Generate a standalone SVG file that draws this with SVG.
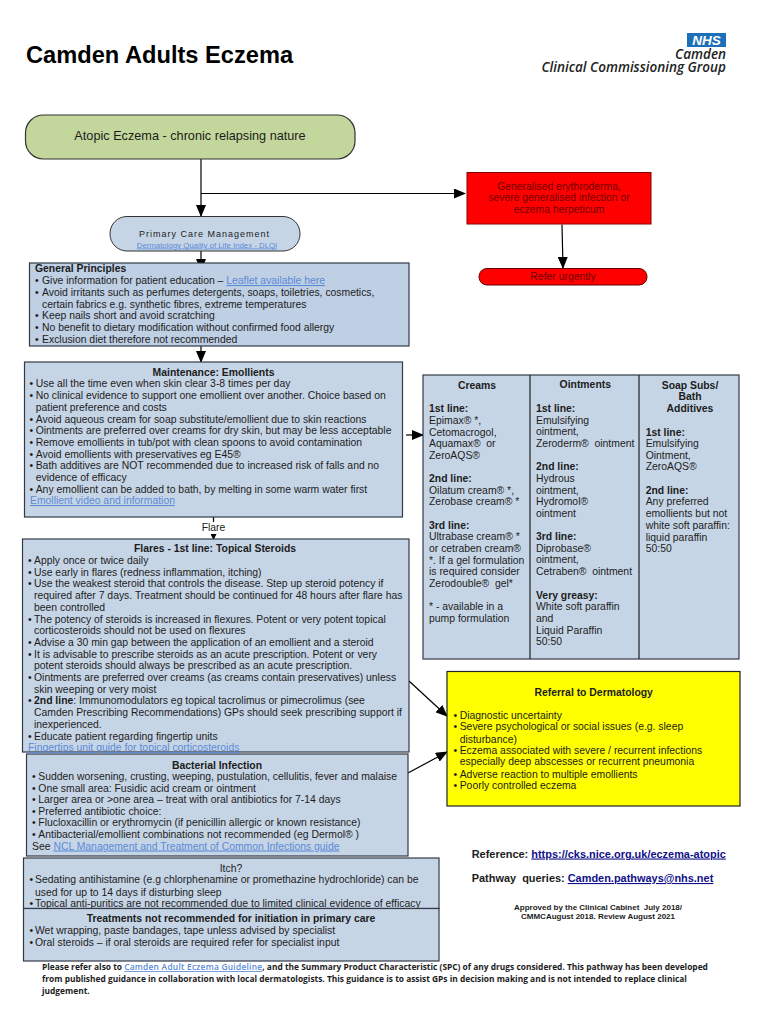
<svg xmlns="http://www.w3.org/2000/svg" width="768" height="1024" viewBox="0 0 768 1024">
<style>
text{font-family:"Liberation Sans",Arial,sans-serif;font-size:10.4px;fill:#1c1c1c;white-space:pre}
.b{font-weight:bold}
.c{text-anchor:middle}
.l{fill:#5b8ad6;text-decoration:underline}
.box{fill:#c6d5e6;stroke:#333a46;stroke-width:1.2}
.con{fill:none;stroke:#000;stroke-width:1.2}
.red{fill:#700000}
.nl{fill:#10108a;text-decoration:underline;font-weight:bold;font-size:10.95px}
.q{font-weight:bold;font-size:10.95px}
.f{font-family:"Open Sans","Liberation Sans",sans-serif;font-weight:700;font-size:8.4px}
.lg{font-family:"Open Sans","Liberation Sans",sans-serif;font-style:italic;font-weight:600;font-size:13.5px;text-anchor:end;fill:#222}
</style>
<defs>
<marker id="a" markerUnits="userSpaceOnUse" markerWidth="12" markerHeight="10" refX="11" refY="5" orient="auto"><path d="M0 0L12 5L0 10z" fill="#000"/></marker>
<marker id="s" markerUnits="userSpaceOnUse" markerWidth="6" markerHeight="6" refX="5" refY="3" orient="auto"><path d="M0 0L6 3L0 6z" fill="#000"/></marker>
</defs>
<rect width="768" height="1024" fill="#fff"/>
<g id="header">
<text x="26" y="63" class="b" style="font-size:23.65px;fill:#000">Camden Adults Eczema</text>
<rect x="687" y="33" width="39" height="14" fill="#1d70b8"/>
<text x="706.500" y="45" class="b c" style="font-size:13.5px;font-style:italic;fill:#fff">NHS</text>
<text x="726" y="59" class="lg">Camden</text>
<text x="726" y="71.500" class="lg">Clinical Commissioning Group</text>
</g>
<g id="connectors">
<path class="con" d="M201 159V216" marker-end="url(#a)"/>
<path class="con" d="M201 193.500H465" marker-end="url(#a)"/>
<path class="con" d="M562 224.500L563 268" marker-end="url(#a)"/>
<path class="con" d="M201 251V270" marker-end="url(#a)"/>
<path class="con" d="M201 346V362" marker-end="url(#a)"/>
<path class="con" d="M406 435H423" marker-end="url(#a)"/>
<path class="con" d="M213.500 517V522M213.500 534V539" marker-end="url(#s)"/>
<path class="con" d="M409 681L447 716" marker-end="url(#a)"/>
<path class="con" d="M408 773L447 752" marker-end="url(#a)"/>
</g>
<g id="atopic">
<rect x="25.500" y="115" width="329.500" height="44" rx="18" fill="#c3d69b" stroke="#333" stroke-width="1.2"/>
<text x="190" y="140" class="c" style="font-size:12.7px">Atopic Eczema - chronic relapsing nature</text>
</g>
<g id="primary">
<rect x="110" y="216.500" width="190" height="34.500" rx="17" fill="#c6d5e6" stroke="#333" stroke-width="1"/>
<text x="204.500" y="237" class="c" style="font-size:9px;letter-spacing:1px">Primary Care Management</text>
<text x="207" y="247.500" class="c l" style="font-size:7.800px">Dermatology Quality of Life Index - DLQI</text>
</g>
<g id="generalised">
<rect x="467" y="172.500" width="184" height="51.500" fill="#f00" stroke="#800" stroke-width="1"/>
<text x="559" y="190" class="c red">Generalised erythroderma,</text>
<text x="559" y="201" class="c red">severe generalised infection or</text>
<text x="559" y="212.500" class="c red">eczema herpeticum</text>
</g>
<g id="refer">
<rect x="479" y="268.500" width="168" height="16.500" rx="8" fill="#f00" stroke="#600" stroke-width="1"/>
<text x="563" y="280" class="c red">Refer urgently</text>
</g>
<g id="general">
<rect class="box" x="29.500" y="263" width="379.500" height="83" style="fill:#bfcfe4"/>
<text x="35" y="271.500" class="b">General Principles</text>
<text y="284"><tspan x="35">•</tspan><tspan x="42">Give information for patient education – </tspan><tspan class="l">Leaflet available here</tspan></text>
<text y="295.500"><tspan x="35">•</tspan><tspan x="42">Avoid irritants such as perfumes detergents, soaps, toiletries, cosmetics,</tspan></text>
<text x="42" y="307.500">certain fabrics e.g. synthetic fibres, extreme temperatures</text>
<text y="319"><tspan x="35">•</tspan><tspan x="42">Keep nails short and avoid scratching</tspan></text>
<text y="330.500"><tspan x="35">•</tspan><tspan x="42">No benefit to dietary modification without confirmed food allergy</tspan></text>
<text y="342.500"><tspan x="35">•</tspan><tspan x="42">Exclusion diet therefore not recommended</tspan></text>
</g>
<g id="maintenance">
<rect class="box" x="24.500" y="362" width="378" height="155"/>
<text x="213.500" y="375.500" class="b c">Maintenance: Emollients</text>
<text y="387"><tspan x="29.500">•</tspan><tspan x="35.700">Use all the time even when skin clear 3-8 times per day</tspan></text>
<text y="399"><tspan x="29.500">•</tspan><tspan x="35.700">No clinical evidence to support one emollient over another. Choice based on</tspan></text>
<text x="35.700" y="411">patient preference and costs</text>
<text y="422.500"><tspan x="29.500">•</tspan><tspan x="35.700">Avoid aqueous cream for soap substitute/emollient due to skin reactions</tspan></text>
<text y="434"><tspan x="29.500">•</tspan><tspan x="35.700">Ointments are preferred over creams for dry skin, but may be less acceptable</tspan></text>
<text y="445.500"><tspan x="29.500">•</tspan><tspan x="35.700">Remove emollients in tub/pot with clean spoons to avoid contamination</tspan></text>
<text y="458"><tspan x="29.500">•</tspan><tspan x="35.700">Avoid emollients with preservatives eg E45®</tspan></text>
<text y="469"><tspan x="29.500">•</tspan><tspan x="35.700">Bath additives are NOT recommended due to increased risk of falls and no</tspan></text>
<text x="35.700" y="481">evidence of efficacy</text>
<text y="493"><tspan x="29.500">•</tspan><tspan x="35.700">Any emollient can be added to bath, by melting in some warm water first</tspan></text>
<text x="30" y="504" class="l">Emollient video and information</text>
</g>
<text id="flare-label" x="213.500" y="531" class="c">Flare</text>
<g id="flares">
<rect class="box" x="22.500" y="539" width="386.500" height="213"/>
<text x="215" y="552" class="b c">Flares - 1st line: Topical Steroids</text>
<text y="564"><tspan x="28">•</tspan><tspan x="34">Apply once or twice daily</tspan></text>
<text y="576"><tspan x="28">•</tspan><tspan x="34">Use early in flares (redness inflammation, itching)</tspan></text>
<text y="587"><tspan x="28">•</tspan><tspan x="34">Use the weakest steroid that controls the disease. Step up steroid potency if</tspan></text>
<text x="34" y="599">required after 7 days. Treatment should be continued for 48 hours after flare has</text>
<text x="34" y="611">been controlled</text>
<text y="622.500"><tspan x="28">•</tspan><tspan x="34">The potency of steroids is increased in flexures. Potent or very potent topical</tspan></text>
<text x="34" y="634">corticosteroids should not be used on flexures</text>
<text y="646"><tspan x="28">•</tspan><tspan x="34">Advise a 30 min gap between the application of an emollient and a steroid</tspan></text>
<text y="658"><tspan x="28">•</tspan><tspan x="34">It is advisable to prescribe steroids as an acute prescription. Potent or very</tspan></text>
<text x="34" y="669">potent steroids should always be prescribed as an acute prescription.</text>
<text y="680.500"><tspan x="28">•</tspan><tspan x="34">Ointments are preferred over creams (as creams contain preservatives) unless</tspan></text>
<text x="34" y="693">skin weeping or very moist</text>
<text y="704"><tspan x="28">•</tspan><tspan x="34" class="b">2nd line</tspan><tspan>: Immunomodulators eg topical tacrolimus or pimecrolimus (see</tspan></text>
<text x="34" y="716">Camden Prescribing Recommendations) GPs should seek prescribing support if</text>
<text x="34" y="727.500">inexperienced.</text>
<text y="739.500"><tspan x="28">•</tspan><tspan x="34">Educate patient regarding fingertip units</tspan></text>
<text x="28" y="751" class="l">Fingertips unit guide for topical corticosteroids</text>
</g>
<g id="bacterial">
<rect class="box" x="26.500" y="754" width="381.500" height="102"/>
<text x="217" y="769" class="b c">Bacterial Infection</text>
<text y="779.500"><tspan x="32">•</tspan><tspan x="38.300">Sudden worsening, crusting, weeping, pustulation, cellulitis, fever and malaise</tspan></text>
<text y="791.500"><tspan x="32">•</tspan><tspan x="38.300">One small area: Fusidic acid cream or ointment</tspan></text>
<text y="803"><tspan x="32">•</tspan><tspan x="38.300">Larger area or &gt;one area – treat with oral antibiotics for 7-14 days</tspan></text>
<text y="815"><tspan x="32">•</tspan><tspan x="38.300">Preferred antibiotic choice:</tspan></text>
<text y="826"><tspan x="32">•</tspan><tspan x="38.300">Flucloxacillin or erythromycin (if penicillin allergic or known resistance)</tspan></text>
<text y="838"><tspan x="32">•</tspan><tspan x="38.300">Antibacterial/emollient combinations not recommended (eg Dermol® )</tspan></text>
<text y="849.500"><tspan x="32">See </tspan><tspan class="l">NCL Management and Treatment of Common Infections guide</tspan></text>
</g>
<g id="itch">
<rect class="box" x="23.500" y="858" width="415.500" height="50.500"/>
<text x="231" y="872" class="c">Itch?</text>
<text y="883"><tspan x="29.500">•</tspan><tspan x="35">Sedating antihistamine (e.g chlorphenamine or promethazine hydrochloride) can be</tspan></text>
<text x="35" y="895.500">used for up to 14 days if disturbing sleep</text>
<text y="907"><tspan x="29.500">•</tspan><tspan x="35">Topical anti-puritics are not recommended due to limited clinical evidence of efficacy</tspan></text>
</g>
<g id="treatments">
<rect class="box" x="23.500" y="908.500" width="415.500" height="52.500"/>
<text x="231" y="922" class="b c">Treatments not recommended for initiation in primary care</text>
<text y="933.500"><tspan x="29.500">•</tspan><tspan x="35">Wet wrapping, paste bandages, tape unless advised by specialist</tspan></text>
<text y="945.500"><tspan x="29.500">•</tspan><tspan x="35">Oral steroids – if oral steroids are required refer for specialist input</tspan></text>
</g>
<g id="table">
<rect class="box" x="423" y="375" width="316" height="284"/>
<path d="M530 375V659M639 375V659" stroke="#222" stroke-width="1.200"/>
<g id="creams">
<text x="477" y="389" class="b c">Creams</text>
<text x="429" y="412" class="b">1st line:</text>
<text x="429" y="423.500">Epimax® *,</text>
<text x="429" y="435.500">Cetomacrogol,</text>
<text x="429" y="447">Aquamax®  or</text>
<text x="429" y="458.500">ZeroAQS®</text>
<text x="429" y="482" class="b">2nd line:</text>
<text x="429" y="493.500">Oilatum cream® *,</text>
<text x="429" y="505">Zerobase cream® *</text>
<text x="429" y="528.500" class="b">3rd line:</text>
<text x="429" y="540">Ultrabase cream® *</text>
<text x="429" y="551.500">or cetraben cream®</text>
<text x="429" y="563.500">*. If a gel formulation</text>
<text x="429" y="575">is required consider</text>
<text x="429" y="587">Zerodouble®  gel*</text>
<text x="429" y="610">* - available in a</text>
<text x="429" y="622">pump formulation</text>
</g>
<g id="ointments">
<text x="585.300" y="388" class="b c">Ointments</text>
<text x="536" y="412" class="b">1st line:</text>
<text x="536" y="423.500">Emulsifying</text>
<text x="536" y="435">ointment,</text>
<text x="536" y="447">Zeroderm®  ointment</text>
<text x="536" y="470" class="b">2nd line:</text>
<text x="536" y="481.500">Hydrous</text>
<text x="536" y="493.500">ointment,</text>
<text x="536" y="505">Hydromol®</text>
<text x="536" y="517">ointment</text>
<text x="536" y="540" class="b">3rd line:</text>
<text x="536" y="551.500">Diprobase®</text>
<text x="536" y="563">ointment,</text>
<text x="536" y="575">Cetraben®  ointment</text>
<text x="536" y="598.500" class="b">Very greasy:</text>
<text x="536" y="610">White soft paraffin</text>
<text x="536" y="622">and</text>
<text x="536" y="633.500">Liquid Paraffin</text>
<text x="536" y="645">50:50</text>
</g>
<g id="soap">
<text x="690" y="389" class="b c">Soap Subs/</text>
<text x="690" y="400" class="b c">Bath</text>
<text x="690" y="412" class="b c">Additives</text>
<text x="645.700" y="435.500" class="b">1st line:</text>
<text x="645.700" y="447">Emulsifying</text>
<text x="645.700" y="458.500">Ointment,</text>
<text x="645.700" y="470">ZeroAQS®</text>
<text x="645.700" y="493.500" class="b">2nd line:</text>
<text x="645.700" y="505">Any preferred</text>
<text x="645.700" y="517">emollients but not</text>
<text x="645.700" y="529">white soft paraffin:</text>
<text x="645.700" y="540.500">liquid paraffin</text>
<text x="645.700" y="552">50:50</text>
</g>
</g>
<g id="referral">
<rect x="447" y="671.500" width="293" height="134.500" fill="#ff0" stroke="#222" stroke-width="1.200"/>
<text x="593.700" y="695.500" class="b c">Referral to Dermatology</text>
<text y="718.500"><tspan x="453.500">•</tspan><tspan x="459.700">Diagnostic uncertainty</tspan></text>
<text y="730"><tspan x="453.500">•</tspan><tspan x="459.700">Severe psychological or social issues (e.g. sleep</tspan></text>
<text x="459.700" y="742.500">disturbance)</text>
<text y="753.500"><tspan x="453.500">•</tspan><tspan x="459.700">Eczema associated with severe / recurrent infections</tspan></text>
<text x="459.700" y="765">especially deep abscesses or recurrent pneumonia</text>
<text y="777.500"><tspan x="453.500">•</tspan><tspan x="459.700">Adverse reaction to multiple emollients</tspan></text>
<text y="789"><tspan x="453.500">•</tspan><tspan x="459.700">Poorly controlled eczema</tspan></text>
</g>
<g id="references">
<text y="857.500"><tspan x="471.700" class="q">Reference:</tspan><tspan x="531.300" class="nl">https://cks.nice.org.uk/eczema-atopic</tspan></text>
<text y="882"><tspan x="471.700" class="q">Pathway  queries:</tspan><tspan x="567.700" class="nl">Camden.pathways@nhs.net</tspan></text>
<text x="598" y="909.500" class="c" style="font-size:8px;font-weight:bold">Approved by the Clinical Cabinet  July 2018/</text>
<text x="598" y="918.500" class="c" style="font-size:8px;font-weight:bold">CMMCAugust 2018. Review August 2021</text>
</g>
<g id="footer">
<text x="42" y="970" class="f">Please refer also to <tspan class="l" style="font-weight:600;letter-spacing:.25px">Camden Adult Eczema Guideline</tspan>, and the Summary Product Characteristic (SPC) of any drugs considered. This pathway has been developed</text>
<text x="42" y="981.500" class="f">from published guidance in collaboration with local dermatologists. This guidance is to assist GPs in decision making and is not intended to replace clinical</text>
<text x="42" y="993.500" class="f">judgement.</text>
</g>
</svg>
